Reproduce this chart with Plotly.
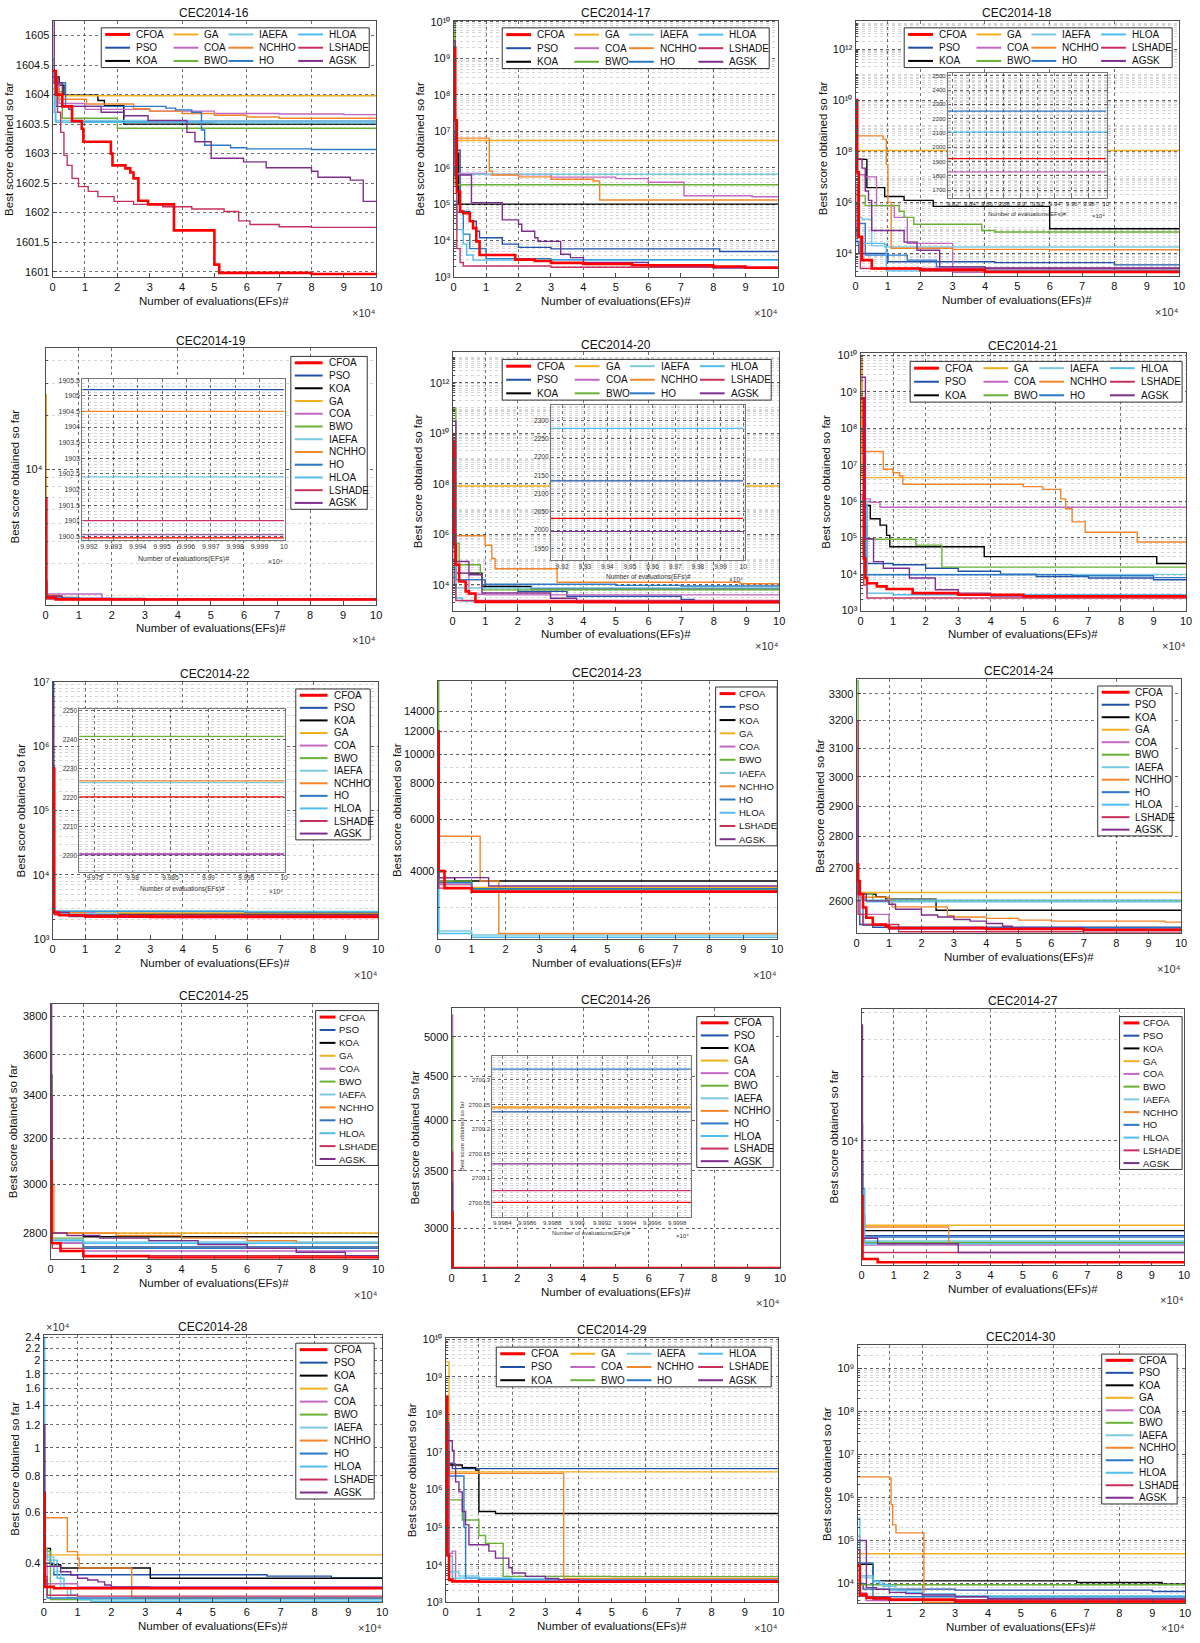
import math
import plotly.graph_objects as go

W, H = 1200, 1643
FONT = "Liberation Sans, Arial, sans-serif"
MAX_FES = 10  # x axis unit: 1e4 function evaluations

ALGOS = ["CFOA", "PSO", "KOA", "GA", "COA", "BWO",
         "IAEFA", "NCHHO", "HO", "HLOA", "LSHADE", "AGSK"]
COLORS = {
    "CFOA": "#ff0000", "PSO": "#2150a8", "KOA": "#000000", "GA": "#f2b01e",
    "COA": "#c267c2", "BWO": "#68b135", "IAEFA": "#7ccae2", "NCHHO": "#f3852a",
    "HO": "#2a78c6", "HLOA": "#4fbdee", "LSHADE": "#c8305c", "AGSK": "#7e2f8e",
}

# convergence curves: [x where the step starts (x1e4 FEs), best score]
f16 = {
    "CFOA": [[0, 1604.4], [0.1, 1604.0], [0.3, 1603.8], [0.6, 1603.55], [0.9, 1603.42], [0.95, 1603.2],
             [1.8, 1603.0], [1.85, 1602.8], [2.25, 1602.75], [2.4, 1602.68], [2.5, 1602.58], [2.65, 1602.2],
             [2.95, 1602.14], [3.75, 1601.7], [5.0, 1601.12], [5.15, 1600.98], [8.0, 1600.96], [10, 1600.95]],
    "PSO": [[0, 1604.3], [0.1, 1603.8], [0.5, 1603.75], [0.6, 1603.55]],
    "KOA": [[0, 1604.3], [0.2, 1604.16], [0.35, 1603.99], [1.4, 1603.9], [1.6, 1603.81], [2.2, 1603.5]],
    "GA": [[0, 1604.1], [0.1, 1603.98]],
    "COA": [[0, 1604.2], [0.2, 1603.85], [1.0, 1603.75], [3.0, 1603.72], [5.0, 1603.68], [7.0, 1603.67], [9.0, 1603.66]],
    "BWO": [[0, 1604.1], [0.2, 1604.05], [0.3, 1603.6], [2.0, 1603.43]],
    "IAEFA": [[0, 1604.0], [0.08, 1603.56], [3.0, 1603.55]],
    "NCHHO": [[0, 1604.1], [0.2, 1603.92], [1.05, 1603.84], [2.5, 1603.76], [3.0, 1603.72], [4.0, 1603.68],
              [5.0, 1603.65], [6.0, 1603.62], [7.0, 1603.6]],
    "HO": [[0, 1604.2], [0.4, 1603.8], [3.5, 1603.77], [3.8, 1603.74], [4.3, 1603.7], [4.6, 1603.4],
           [4.7, 1603.14], [5.5, 1603.1], [6.0, 1603.08], [8.0, 1603.07]],
    "HLOA": [[0, 1604.6], [0.05, 1603.7], [0.1, 1603.53], [5.0, 1603.52]],
    "LSHADE": [[0, 1604.3], [0.15, 1603.7], [0.25, 1603.36], [0.35, 1602.97], [0.45, 1602.8], [0.6, 1602.58],
               [0.8, 1602.44], [1.1, 1602.36], [1.4, 1602.27], [1.9, 1602.19], [2.5, 1602.14], [3.4, 1602.1],
               [4.3, 1602.06], [5.3, 1602.02], [5.75, 1601.86], [6.1, 1601.8], [7.0, 1601.76], [8.0, 1601.75]],
    "AGSK": [[0, 1605.3], [0.05, 1604.2], [0.3, 1603.8], [1.5, 1603.7], [2.2, 1603.64], [2.95, 1603.56],
             [4.15, 1603.36], [4.4, 1603.2], [4.9, 1602.92], [5.9, 1602.86], [6.6, 1602.76], [8.0, 1602.7],
             [8.2, 1602.6], [9.2, 1602.55], [9.6, 1602.19]],
}
f17 = {
    "CFOA": [[0, 2e9], [0.05, 2e7], [0.1, 2.2e5], [0.2, 6.3e4], [0.3, 5.6e4], [0.5, 3.4e4], [0.6, 2.2e4],
             [0.7, 9.5e3], [0.8, 4.0e3], [1.9, 3.0e3], [2.5, 2.75e3], [3.0, 2.45e3], [4.0, 2.3e3],
             [5.5, 2.1e3], [8.0, 1.95e3], [9.0, 1.8e3]],
    "PSO": [[0, 3e6], [0.2, 6.3e4], [0.5, 3.4e4], [0.7, 1.8e4], [0.8, 1.2e4], [1.5, 8e3], [2.0, 6.5e3],
            [3.0, 5.9e3], [8.2, 5.0e3]],
    "KOA": [[0, 2.5e6], [0.15, 1.0e5]],
    "GA": [[0, 5e9], [0.05, 5.6e6]],
    "COA": [[0, 7e5], [1.0, 6.5e5], [3.0, 5.5e5], [5.0, 5.0e5], [6.0, 4.0e5], [7.1, 1.7e5], [9.2, 1.6e5]],
    "BWO": [[0, 1e10], [0.05, 3.4e5]],
    "IAEFA": [[0, 1e6], [0.1, 6.6e5]],
    "NCHHO": [[0, 6.5e6], [1.1, 8e5], [1.2, 6.3e5], [2.0, 5.6e5], [3.0, 4.8e5], [4.3, 4.3e5], [4.5, 1.3e5]],
    "HO": [[0, 1.2e5], [0.1, 6e4], [0.3, 1.5e4], [0.5, 6e3], [1.0, 3.2e3], [3.0, 3.0e3]],
    "HLOA": [[0, 1e5], [0.1, 2e4], [0.3, 8e3], [0.4, 4e3], [0.6, 2.9e3]],
    "LSHADE": [[0, 7e6], [0.05, 5e5], [0.1, 6e3], [0.2, 2.5e3], [0.3, 2.0e3], [3.0, 1.85e3]],
    "AGSK": [[0, 3e9], [0.05, 6.3e5], [0.55, 1.1e5], [1.5, 3.7e4], [2.0, 2.8e4], [2.1, 1.8e4], [2.5, 1.2e4],
             [2.6, 9.5e3], [3.3, 4.2e3], [3.6, 3.4e3], [4.0, 2.5e3], [6.0, 2.0e3], [8.0, 1.75e3]],
}
f18 = {
    "CFOA": [[0, 1e10], [0.05, 1.5e7], [0.1, 4.5e4], [0.2, 5.5e3], [0.5, 2.6e3], [2.0, 2.25e3], [4.0, 1920]],
    "PSO": [[0, 3e4], [0.1, 1e4], [1.0, 4.8e3], [4.3, 4.4e3], [8.0, 3.6e3]],
    "KOA": [[0, 8e7], [0.05, 4.8e7], [0.35, 3.8e6], [0.9, 1.7e6], [1.5, 1.2e6], [2.4, 7e5], [6.0, 9.3e4]],
    "GA": [[0, 5e9], [0.05, 1.07e8]],
    "COA": [[0, 1.2e7], [0.3, 1e7], [0.65, 7.5e5], [1.2, 2.6e5], [1.6, 2.5e4], [3.0, 1827]],
    "BWO": [[0, 2e6], [0.1, 1.8e6], [0.3, 7.5e5], [1.35, 4.5e5], [1.5, 2.6e5], [1.8, 1.4e5], [3.9, 8e4], [4.3, 7e4]],
    "IAEFA": [[0, 5e5], [0.1, 2.6e5], [0.2, 2.2e5], [0.5, 2.0e4], [0.9, 1.8e4]],
    "NCHHO": [[0, 1e9], [0.05, 4e8], [0.85, 3e8], [0.95, 3e7], [1.0, 1e6], [1.1, 1.6e4], [3.0, 1.45e4], [6.0, 1.4e4]],
    "HO": [[0, 1.5e5], [0.3, 8.7e3], [1.6, 5.5e3], [2.5, 3e3], [4.0, 2252]],
    "HLOA": [[0, 3e5], [0.05, 2.5e4], [0.9, 2.3e4], [0.95, 2106]],
    "LSHADE": [[0, 5e6], [0.05, 4.5e4], [0.15, 2.6e3]],
    "AGSK": [[0, 5e7], [0.2, 2.2e7], [0.3, 2.8e6], [0.4, 1.2e6], [0.5, 8e4], [1.5, 2.8e4], [1.9, 1.35e4],
             [2.6, 3e3], [4.0, 2.7e3]],
}
f19 = {
    "CFOA": [[0, 6900], [0.02, 1950], [0.3, 1905], [2.0, 1900.45]],
    "PSO": [[0, 2200], [0.02, 1960], [0.5, 1930], [3.0, 1905.2]],
    "KOA": [[0, 2100], [0.02, 1940], [1.0, 1906.5]],
    "GA": [[0, 26000], [0.02, 1940], [1.0, 1907]],
    "COA": [[0, 2400], [0.05, 2040], [1.7, 1915], [4.0, 1908]],
    "BWO": [[0, 2100], [0.02, 1950], [1.0, 1910]],
    "IAEFA": [[0, 2000], [0.02, 1930], [1.0, 1912]],
    "NCHHO": [[0, 2300], [0.02, 2010], [0.45, 1950], [0.75, 1915], [3.0, 1904.5]],
    "HO": [[0, 2050], [0.02, 1940], [1.0, 1906.8]],
    "HLOA": [[0, 2000], [0.02, 1925], [1.0, 1902.4]],
    "LSHADE": [[0, 2200], [0.02, 1915], [0.5, 1901.0]],
    "AGSK": [[0, 2600], [0.02, 1990], [0.5, 1930], [2.0, 1900.55]],
}
f20 = {
    "CFOA": [[0, 5e9], [0.05, 3.7e5], [0.1, 6.2e4], [0.2, 1.35e4], [0.4, 5.5e3], [0.5, 4.5e3], [0.7, 2.1e3], [5.0, 2032]],
    "PSO": [[0, 5e5], [0.1, 1.6e4], [1.0, 8.5e3], [2.0, 5.5e3], [3.5, 3.5e3], [7.0, 2.6e3], [7.4, 2135]],
    "KOA": [[0, 1e6], [0.1, 2.9e4], [0.9, 8.5e3], [2.4, 7.0e3]],
    "GA": [[0, 1e10], [0.02, 8.1e7]],
    "COA": [[0, 4e5], [0.1, 3e4], [0.5, 4.2e3], [1.0, 4.0e3]],
    "BWO": [[0, 1e11], [0.1, 4.4e5], [0.2, 6.2e4], [0.85, 2.5e4], [0.9, 6.3e3]],
    "IAEFA": [[0, 2e5], [0.1, 7.5e3]],
    "NCHHO": [[0, 1e7], [0.05, 8.7e5], [1.0, 3.7e5], [1.2, 1.1e5], [1.3, 4.3e4], [3.2, 1.26e4], [8.8, 1.1e4]],
    "HO": [[0, 3e5], [0.1, 1.6e4], [1.0, 1.05e4], [5.0, 9.5e3], [7.0, 9.0e3]],
    "HLOA": [[0, 5e6], [0.1, 3e3], [0.3, 2279]],
    "LSHADE": [[0, 3e5], [0.05, 1e4], [0.1, 2.4e3], [0.5, 2380]],
    "AGSK": [[0, 3e10], [0.1, 8.3e4], [0.5, 2.5e4], [0.9, 4.7e3], [3.0, 2.95e3], [3.8, 1996]],
}
f21 = {
    "CFOA": [[0, 6.6e8], [0.1, 2.7e4], [0.15, 7.8e3], [0.2, 5.6e3], [0.5, 4.6e3], [0.8, 3.9e3], [1.6, 3.0e3],
             [3.0, 2.7e3], [5.0, 2.45e3]],
    "PSO": [[0, 2e5], [0.2, 1.95e4], [1.0, 1.8e4], [2.0, 1.45e4], [3.0, 1.2e4], [4.3, 1.0e4], [5.4, 8.5e3],
            [7.0, 7.8e3], [9.0, 7.0e3]],
    "KOA": [[0, 1e6], [0.1, 7.6e5], [0.3, 3.3e5], [0.6, 2.2e5], [0.8, 1.15e5], [0.9, 5.6e4], [3.8, 3e4], [9.1, 1.95e4]],
    "GA": [[0, 1e10], [0.02, 4.4e6]],
    "COA": [[0, 1.5e6], [0.05, 1.15e6], [0.3, 9.3e5], [0.6, 6.8e5]],
    "BWO": [[0, 1e6], [0.1, 9e4], [1.7, 6.2e4], [2.5, 1.55e4]],
    "IAEFA": [[0, 1e6], [0.2, 9.8e3]],
    "NCHHO": [[0, 8e9], [0.05, 2.3e7], [0.7, 7.5e6], [1.0, 6e6], [1.2, 4.9e6], [1.3, 2.9e6], [5.0, 2.5e6],
              [5.6, 2.1e6], [6.15, 1.15e6], [6.3, 6.2e5], [6.5, 2.7e5], [6.9, 1.4e5], [8.5, 7.6e4]],
    "HO": [[0, 5e5], [0.15, 9.6e3], [6.5, 9.0e3], [9.0, 8.0e3]],
    "HLOA": [[0, 8e5], [0.2, 3e3], [1.0, 2.7e3]],
    "LSHADE": [[0, 3e5], [0.1, 5e3], [0.2, 2.2e3]],
    "AGSK": [[0, 2.5e9], [0.15, 9.3e4], [0.4, 2.2e4], [0.7, 1.45e4], [1.5, 7.8e3], [2.3, 3.7e3], [3.0, 3e3], [4.0, 2.5e3]],
}
f22 = {
    "CFOA": [[0, 4.5e5], [0.05, 2600], [0.2, 2350], [1.0, 2250], [3.0, 2220.2]],
    "PSO": [[0, 1e7], [0.03, 2600], [1.0, 2500]],
    "KOA": [[0, 3e4], [0.05, 2600], [1.0, 2450]],
    "GA": [[0, 8e3], [0.05, 2700], [1.0, 2550]],
    "COA": [[0, 1e4], [0.05, 2600], [1.3, 2200.7]],
    "BWO": [[0, 2e4], [0.05, 2500], [1.0, 2241]],
    "IAEFA": [[0, 5e3], [0.05, 2500], [2.0, 2225.1]],
    "NCHHO": [[0, 6e3], [0.05, 2600], [1.0, 2225.7]],
    "HO": [[0, 2e4], [0.05, 2700], [5.9, 2650]],
    "HLOA": [[0, 5e3], [0.05, 2750], [5.9, 2700]],
    "LSHADE": [[0, 1e4], [0.05, 2400], [0.5, 2350]],
    "AGSK": [[0, 6e6], [0.03, 5e5], [0.05, 2600], [0.5, 2250], [2.0, 2200.3]],
}
f23 = {
    "CFOA": [[0, 12000], [0.03, 4000], [0.2, 3500], [1.0, 3400]],
    "PSO": [[0, 6000], [0.03, 3700], [1.0, 3500]],
    "KOA": [[0, 5000], [0.03, 3800], [0.5, 3700]],
    "GA": [[0, 4500], [0.03, 3600], [1.0, 3520]],
    "COA": [[0, 8000], [0.03, 3600], [1.0, 3450]],
    "BWO": [[0, 18000], [0.03, 3700], [1.0, 3460]],
    "IAEFA": [[0, 4000], [0.03, 2500], [1.0, 2420]],
    "NCHHO": [[0, 5260], [1.25, 3700], [1.8, 2450]],
    "HO": [[0, 5000], [0.03, 3650], [1.0, 3480]],
    "HLOA": [[0, 4000], [0.03, 2450], [1.0, 2380]],
    "LSHADE": [[0, 6000], [0.03, 3500], [1.0, 3420]],
    "AGSK": [[0, 7000], [0.03, 3800], [1.5, 3560]],
}
f24 = {
    "CFOA": [[0, 2712], [0.05, 2660], [0.1, 2620], [0.2, 2580], [0.3, 2550], [0.5, 2530], [0.9, 2525],
             [1.0, 2520], [4.0, 2517], [7.0, 2515]],
    "PSO": [[0, 2600], [0.1, 2530], [0.5, 2522]],
    "KOA": [[0, 2640], [0.05, 2620], [0.6, 2612], [0.9, 2605], [2.45, 2572]],
    "GA": [[0, 2700], [0.05, 2625]],
    "COA": [[0, 2650], [0.1, 2560], [1.0, 2516]],
    "BWO": [[0, 3350], [0.05, 2620], [0.5, 2600]],
    "IAEFA": [[0, 2640], [0.05, 2612], [0.3, 2603]],
    "NCHHO": [[0, 2650], [0.1, 2611], [1.0, 2600], [1.1, 2582], [2.8, 2556], [3.0, 2552], [4.0, 2548],
              [5.0, 2543], [6.0, 2540], [9.5, 2537]],
    "HO": [[0, 2620], [0.2, 2528], [1.0, 2520]],
    "HLOA": [[0, 2630], [0.1, 2605], [0.3, 2597]],
    "LSHADE": [[0, 3200], [0.05, 2560], [0.2, 2530], [1.3, 2509], [7.0, 2508]],
    "AGSK": [[0, 2900], [0.05, 2620], [0.3, 2600], [1.0, 2590], [1.2, 2575], [2.0, 2558], [2.5, 2552],
             [3.0, 2545], [3.5, 2540], [4.0, 2533], [4.5, 2525], [4.8, 2520], [7.0, 2513]],
}
f25 = {
    "CFOA": [[0, 3100], [0.03, 2760], [0.3, 2730], [1.0, 2710], [3.0, 2705]],
    "PSO": [[0, 2900], [0.05, 2760], [1.0, 2745]],
    "KOA": [[0, 3000], [0.05, 2800], [1.0, 2785]],
    "GA": [[0, 2950], [0.05, 2800]],
    "COA": [[0, 3300], [0.05, 2760], [1.0, 2730]],
    "BWO": [[0, 3500], [0.05, 2780], [1.0, 2740]],
    "IAEFA": [[0, 3200], [0.05, 2775], [1.0, 2765]],
    "NCHHO": [[0, 3000], [0.1, 2800], [2.0, 2790], [4.0, 2780], [6.0, 2770], [7.5, 2760]],
    "HO": [[0, 3100], [0.05, 2770], [1.0, 2740]],
    "HLOA": [[0, 3300], [0.05, 2770], [1.0, 2760]],
    "LSHADE": [[0, 3400], [0.05, 2740], [1.0, 2712]],
    "AGSK": [[0, 3870], [0.03, 2800], [0.5, 2790], [1.5, 2780], [3.0, 2770], [4.5, 2755], [6.0, 2740],
             [7.5, 2725], [9.0, 2712]],
}
f26 = {
    "CFOA": [[0, 3130], [0.03, 2701], [1.0, 2700.051]],
    "PSO": [[0, 2900], [0.03, 2701], [1.0, 2700.235]],
    "KOA": [[0, 2850], [0.03, 2701], [1.0, 2700.45]],
    "GA": [[0, 2800], [0.03, 2701], [1.0, 2700.245]],
    "COA": [[0, 5300], [0.03, 2700.4]],
    "BWO": [[0, 5000], [0.03, 2700.5]],
    "IAEFA": [[0, 2800], [0.03, 2701], [1.0, 2700.6]],
    "NCHHO": [[0, 2800], [0.03, 2701], [1.0, 2700.243]],
    "HO": [[0, 2900], [0.03, 2701], [1.0, 2700.322]],
    "HLOA": [[0, 2800], [0.03, 2701], [1.0, 2700.01]],
    "LSHADE": [[0, 3680], [0.03, 2701], [1.0, 2700.075]],
    "AGSK": [[0, 3400], [0.03, 2701], [1.0, 2700.129]],
}
f27 = {
    "CFOA": [[0, 5500], [0.03, 2800], [0.5, 2700]],
    "PSO": [[0, 5000], [0.05, 3600]],
    "KOA": [[0, 6000], [0.05, 3800]],
    "GA": [[0, 5000], [0.03, 4030]],
    "COA": [[0, 9000], [0.03, 3250]],
    "BWO": [[0, 7000], [0.05, 3350]],
    "IAEFA": [[0, 8000], [0.05, 3400]],
    "NCHHO": [[0, 4500], [0.1, 3950], [2.7, 3300]],
    "HO": [[0, 4500], [0.05, 3550]],
    "HLOA": [[0, 6000], [0.1, 3300]],
    "LSHADE": [[0, 12000], [0.03, 3000]],
    "AGSK": [[0, 35000], [0.03, 3500], [0.5, 3300], [3.0, 3000]],
}
f28 = {
    "CFOA": [[0, 7000], [0.03, 3314], [0.3, 3280]],
    "PSO": [[0, 4000], [0.3, 3650], [6.6, 3610], [8.5, 3560]],
    "KOA": [[0, 4500], [0.2, 3950], [0.5, 3850], [3.15, 3550]],
    "GA": [[0, 5000], [0.03, 4275]],
    "COA": [[0, 4000], [0.1, 3400], [1.0, 3310]],
    "BWO": [[0, 4500], [0.1, 4400], [0.2, 3000]],
    "IAEFA": [[0, 12000], [0.03, 4200], [0.3, 3750], [0.5, 3300], [0.7, 3050], [1.0, 3000]],
    "NCHHO": [[0, 5740], [0.7, 4385], [1.0, 4160], [1.05, 3850], [2.6, 3035]],
    "HO": [[0, 3500], [0.1, 3035]],
    "HLOA": [[0, 24000], [0.03, 4400], [0.1, 4100], [0.4, 3550], [0.6, 3300], [0.8, 3100], [1.0, 3000], [1.4, 2955]],
    "LSHADE": [[0, 3600], [0.1, 3100], [1.0, 3080]],
    "AGSK": [[0, 12000], [0.03, 3900], [0.5, 3740], [0.8, 3643], [1.0, 3548], [1.3, 3500], [1.6, 3450],
             [1.8, 3363], [2.0, 3314], [3.1, 3300]],
}
f29 = {
    "CFOA": [[0, 3e8], [0.05, 1.8e4], [0.1, 4e3], [0.2, 3.6e3], [1.0, 3.5e3]],
    "PSO": [[0, 5e6], [0.2, 3.6e6]],
    "KOA": [[0, 1e7], [0.1, 4.5e6], [0.5, 3.8e6], [0.9, 3.3e6], [1.0, 2.6e5], [1.5, 2.3e5]],
    "GA": [[0, 2.5e9], [0.1, 2.95e6]],
    "COA": [[0, 2e4], [0.2, 2.3e4], [0.3, 3.6e3], [1.0, 3.5e3]],
    "BWO": [[0, 1e7], [0.1, 5.3e5], [0.5, 1.55e5], [1.0, 6e4], [1.2, 3.7e4], [1.73, 4.9e3], [5.0, 4.8e3]],
    "IAEFA": [[0, 2e6], [0.1, 6.5e3], [0.4, 5e3], [1.0, 4.3e3], [3.0, 4.0e3]],
    "NCHHO": [[0, 5e6], [0.1, 2.7e6], [3.55, 4.3e3]],
    "HO": [[0, 6e7], [0.1, 2.3e6], [0.55, 1e5], [0.6, 4.4e3], [1.0, 4.0e3]],
    "HLOA": [[0, 1e7], [0.05, 1.7e4], [0.2, 4.4e3], [2.0, 3.9e3]],
    "LSHADE": [[0, 1e7], [0.1, 3.7e3], [1.0, 3.45e3]],
    "AGSK": [[0, 2e7], [0.2, 1.1e7], [0.25, 4.8e6], [0.3, 1.6e6], [0.4, 8.7e5], [0.5, 2.6e5], [0.6, 1.15e5],
             [0.7, 3.4e4], [1.3, 2.3e4], [1.5, 1.5e4], [1.9, 8.3e3], [2.0, 6e3], [2.4, 4.9e3], [3.0, 4.3e3],
             [3.4, 4e3], [4.0, 3.8e3]],
}
f30 = {
    "CFOA": [[0, 2.6e4], [0.1, 5.5e3], [0.3, 4.6e3], [1.0, 4.2e3], [3.0, 3.8e3]],
    "PSO": [[0, 1e4], [0.2, 7.4e3], [3.0, 7e3], [9.0, 6.5e3]],
    "KOA": [[0, 2.8e4], [0.5, 1.15e4], [6.7, 1.05e4], [9.3, 9.6e3]],
    "GA": [[0, 5e4], [0.02, 4.9e4]],
    "COA": [[0, 1.26e5], [0.1, 6e3], [0.3, 4.0e3]],
    "BWO": [[0, 1.2e4], [0.1, 9.3e3]],
    "IAEFA": [[0, 1.5e4], [0.1, 1.35e4], [0.5, 1.1e4], [0.8, 8.6e3], [1.2, 6.8e3], [2.0, 5.8e3], [3.0, 5.1e3], [4.0, 4.9e3]],
    "NCHHO": [[0, 3e6], [1.0, 2.8e6], [1.05, 6.8e5], [1.1, 2.3e5], [1.2, 1.5e5], [2.05, 3650]],
    "HO": [[0, 3e4], [0.5, 4.9e3]],
    "HLOA": [[0, 3.3e5], [0.1, 1.5e4], [0.5, 1.15e4], [0.7, 9.5e3], [1.0, 7e3], [1.5, 6.2e3], [2.0, 5.6e3], [3.0, 5.1e3]],
    "LSHADE": [[0, 6e4], [0.1, 5e3], [0.5, 4.2e3]],
    "AGSK": [[0, 1e5], [0.3, 8e3], [0.6, 7.3e3], [1.0, 6.2e3], [1.5, 5.8e3], [2.0, 5.4e3], [3.0, 4.9e3], [4.0, 4.4e3]],
}

# tick values
X_TICKS = [0, 1, 2, 3, 4, 5, 6, 7, 8, 9, 10]
X_GRID = [1, 2, 4, 6, 8]
YT16 = [1601, 1601.5, 1602, 1602.5, 1603, 1603.5, 1604, 1604.5, 1605]
YT17 = [1e3, 1e4, 1e5, 1e6, 1e7, 1e8, 1e9, 1e10]
YT18 = [1e4, 1e6, 1e8, 1e10, 1e12]
YT19 = [1e4]
YT20 = [1e4, 1e6, 1e8, 1e10, 1e12]
YT21 = [1e3, 1e4, 1e5, 1e6, 1e7, 1e8, 1e9, 1e10]
YT22 = [1e3, 1e4, 1e5, 1e6, 1e7]
YT23 = [4000, 6000, 8000, 10000, 12000, 14000]
YT24 = [2600, 2700, 2800, 2900, 3000, 3100, 3200, 3300]
YT25 = [2800, 3000, 3200, 3400, 3600, 3800]
YT26 = [3000, 3500, 4000, 4500, 5000]
YT27 = [1e4]
YT28 = [4000, 6000, 8000, 10000, 12000, 14000, 16000, 18000, 20000, 22000, 24000]
YT29 = [1e3, 1e4, 1e5, 1e6, 1e7, 1e8, 1e9, 1e10]
YT30 = [1e4, 1e5, 1e6, 1e7, 1e8, 1e9]

IX18 = [9.82, 9.84, 9.86, 9.88, 9.9, 9.92, 9.94, 9.96, 9.98, 10]
IY18 = [1700, 1800, 1900, 2000, 2100, 2200, 2300, 2400, 2500]
IX19 = [9.992, 9.993, 9.994, 9.995, 9.996, 9.997, 9.998, 9.999, 10]
IY19 = [1900.5, 1901, 1901.5, 1902, 1902.5, 1903, 1903.5, 1904, 1904.5, 1905, 1905.5]
IX20 = [9.92, 9.93, 9.94, 9.95, 9.96, 9.97, 9.98, 9.99, 10]
IY20 = [1950, 2000, 2050, 2100, 2150, 2200, 2250, 2300]
IX22 = [9.975, 9.98, 9.985, 9.99, 9.995, 10]
IY22 = [2200, 2210, 2220, 2230, 2240, 2250]
IX26 = [9.9984, 9.9986, 9.9988, 9.999, 9.9992, 9.9994, 9.9996, 9.9998]
IY26 = [2700.05, 2700.1, 2700.15, 2700.2, 2700.25, 2700.3]

# title, curves, y ticks, tick label style, y range
PANELS = [
    ("CEC2014-16", f16, YT16, "num", (1600.91, 1605.25)),
    ("CEC2014-17", f17, YT17, "pow", (1000, 1.07e10)),
    ("CEC2014-18", f18, YT18, "pow", (1320, 1.26e13)),
    ("CEC2014-19", f19, YT19, "pow", (1782, 46800)),
    ("CEC2014-20", f20, YT20, "pow", (955, 1.58e13)),
    ("CEC2014-21", f21, YT21, "pow", (1000, 1.12e10)),
    ("CEC2014-22", f22, YT22, "pow", (1000, 1e7)),
    ("CEC2014-23", f23, YT23, "num", (2344, 17800)),
    ("CEC2014-24", f24, YT24, "num", (2505, 3357)),
    ("CEC2014-25", f25, YT25, "num", (2700, 3870)),
    ("CEC2014-26", f26, YT26, "num", (2703, 5404)),
    ("CEC2014-27", f27, YT27, "pow", (2630, 41700)),
    ("CEC2014-28", f28, YT28, "e4", (2934, 24440)),
    ("CEC2014-29", f29, YT29, "pow", (1000, 1.07e10)),
    ("CEC2014-30", f30, YT30, "pow", (3467, 3.47e9)),
]

# pixel geometry: left, top, right, bottom, y-title offset, x start, legend box, legend columns
GEOM = [
    (50, 15, 376, 273, 44, 0, (99, 22, 369, 62), 4),
    (454, 15, 781, 273, 34, 0, (503, 22, 772, 63), 4),
    (859, 15, 1185, 272, 32, 0, (908, 22, 1178, 62), 4),
    (43, 345, 376, 603, 31, 0, (290, 353, 367, 507), 1),
    (453, 349, 782, 609, 35, 0, (503, 356, 774, 397), 4),
    (864, 350, 1192, 609, 35, 0, (914, 358, 1188, 399), 4),
    (50, 681, 378, 940, 32, 0, (295, 688, 370, 840), 1),
    (438, 680, 780, 940, 41, 0, (718, 686, 780, 846), 1),
    (860, 678, 1187, 934, 37, 0, (1103, 685, 1178, 836), 1),
    (48, 1005, 378, 1262, 38, 0, (315, 1012, 378, 1168), 1),
    (452, 1009, 783, 1271, 37, 0, (699, 1018, 776, 1170), 1),
    (865, 1010, 1190, 1268, 28, 0, (1125, 1018, 1188, 1172), 1),
    (41, 1339, 382, 1608, 29, 0, (295, 1347, 374, 1504), 1),
    (446, 1342, 781, 1608, 34, 0, (497, 1351, 774, 1391), 4),
    (861, 1349, 1191, 1609, 31, 0.03, (1107, 1358, 1183, 1509), 1),
]

# zoomed insets: parent panel index, box px, x range, x ticks, y range, y ticks, font size, y title
INSETS = [
    (2, (952, 67, 1112, 193), (9.814, 10.001), IX18, (1647, 2523), IY18, 6, False),
    (3, (80, 376, 284, 538), (9.99173, 10.00004), IX19, (1900.38, 1905.53), IY19, 7, False),
    (4, (552, 402, 748, 558), (9.915, 10.001), IX20, (1918, 2343), IY20, 6.5, False),
    (6, (77, 708, 284, 872), (9.973, 10.0001), IX22, (2194.5, 2250.5), IY22, 6.5, False),
    (10, (493, 1058, 693, 1220), (9.99832, 9.99991), IX26, (2700.021, 2700.348), IY26, 6, True),
]

DRAW_ORDER = ALGOS[1:] + ["CFOA"]
GRID = "rgba(0,0,0,0.55)"
MINOR = "rgba(0,0,0,0.16)"
AXC = "#4d4d4d"
SUP = str.maketrans("0123456789-", "\u2070\u00b9\u00b2\u00b3\u2074\u2075\u2076\u2077\u2078\u2079\u207b")
E4 = "\u00d710" + "4".translate(SUP)


def px(x):
    return x / W


def py(y):
    return 1 - y / H


def names(k):
    s = "" if k == 1 else str(k)
    return "xaxis" + s, "yaxis" + s, "x" + s, "y" + s


def tick_label(v, mode):
    if mode == "pow":
        return "10" + str(round(math.log10(v))).translate(SUP)
    if mode == "e4":
        return "%g" % (v / 1e4)
    return "%g" % v


def text(s, x, y, size, xanchor="center", angle=0, color="#111"):
    return dict(text=s, x=px(x), y=py(y), xref="paper", yref="paper", xanchor=xanchor,
                yanchor="middle", textangle=angle, showarrow=False,
                font=dict(size=size, color=color))


fig = go.Figure()
layout = dict(width=W, height=H, margin=dict(l=0, r=0, t=0, b=0), paper_bgcolor="white",
              plot_bgcolor="white", showlegend=False, hovermode=False,
              font=dict(family=FONT, color="#111", size=11))
shapes, annos = [], []


def add_curves(data, xr, yr, inset):
    for name in DRAW_ORDER:
        pts = data[name]
        xs = [p[0] for p in pts] + [MAX_FES]
        ys = [p[1] for p in pts] + [pts[-1][1]]
        w = 1.2 if inset else (2.6 if name == "CFOA" else 1.4)
        fig.add_trace(go.Scatter(x=xs, y=ys, mode="lines", name=name, xaxis=xr, yaxis=yr,
                                 line=dict(color=COLORS[name], width=w, shape="hv")))


def add_legend(box, ncols):
    x0, y0, x1, y1 = box
    shapes.append(dict(type="rect", xref="paper", yref="paper", x0=px(x0), x1=px(x1), y0=py(y1), y1=py(y0),
                       line=dict(color="#333", width=1), fillcolor="white", layer="above"))
    nrows = len(ALGOS) // ncols
    rh = (y1 - y0) / nrows
    offs = [0, 0.255, 0.46, 0.72] if ncols == 4 else [0]
    narrow = x1 - x0 < 70
    slen = 25 if ncols == 4 else (16 if narrow else 28)
    for i, name in enumerate(ALGOS):
        c, r = divmod(i, nrows)
        cx = x0 + offs[c] * (x1 - x0)
        cy = y0 + rh * (r + 0.5)
        shapes.append(dict(type="line", xref="paper", yref="paper", x0=px(cx + 4), x1=px(cx + 4 + slen),
                           y0=py(cy), y1=py(cy), layer="above",
                           line=dict(color=COLORS[name], width=3 if name == "CFOA" else 2)))
        annos.append(text(name, cx + slen + (6 if narrow else 8), cy, 9.5 if narrow else 10, "left"))


for i, (title, data, yt, mode, (ylo, yhi)) in enumerate(PANELS):
    k = i + 1
    left, top, right, bottom, dx, xlo, lbox, lcols = GEOM[i]
    xa, ya, xr, yr = names(k)
    add_curves(data, xr, yr, False)
    layout[xa] = dict(domain=[px(left), px(right)], range=[xlo, MAX_FES], anchor=yr,
                      tickmode="array", tickvals=X_TICKS, ticktext=["%g" % v for v in X_TICKS],
                      showgrid=False, zeroline=False, showline=True, mirror=True, linecolor=AXC,
                      ticks="inside", ticklen=4, tickcolor=AXC, tickfont=dict(size=11),
                      minor=dict(tickmode="array", tickvals=X_GRID, showgrid=True, gridcolor=GRID,
                                 griddash="dot", gridwidth=1))
    layout[ya] = dict(domain=[py(bottom), py(top)], type="log", anchor=xr,
                      range=[math.log10(ylo), math.log10(yhi)],
                      tickmode="array", tickvals=yt, ticktext=[tick_label(v, mode) for v in yt],
                      showgrid=True, gridcolor=GRID, griddash="dot", gridwidth=1, zeroline=False,
                      showline=True, mirror=True, linecolor=AXC, ticks="inside", ticklen=4,
                      tickcolor=AXC, tickfont=dict(size=11),
                      minor=dict(dtick="D1", showgrid=True, gridcolor=MINOR, griddash="dot",
                                 ticks="inside", ticklen=2, tickcolor=AXC))
    mid = (left + right) / 2
    annos.append(text(title, mid, top - 8, 12))
    annos.append(text("Number of evaluations(EFs)#", mid, bottom + 24, 11.5))
    annos.append(text(E4, right + 2, min(bottom + 36, H - 9), 11, "right", color="#333"))
    annos.append(text("Best score obtained so far", left - dx, (top + bottom) / 2, 11.5, angle=-90))
    if mode == "e4":
        annos.append(text(E4, left, top - 8, 11, "left", color="#333"))
    add_legend(lbox, lcols)

for j, (pi, box, xrng, xt, yrng, yt, fs, ytitle) in enumerate(INSETS):
    k = len(PANELS) + j + 1
    xa, ya, xr, yr = names(k)
    l, t, r, b = box
    add_curves(PANELS[pi][1], xr, yr, True)
    common = dict(showline=True, mirror=True, linecolor="#777", ticks="inside", ticklen=2, tickcolor="#777",
                  showgrid=True, gridcolor=GRID, griddash="dot", gridwidth=1, zeroline=False,
                  tickfont=dict(size=fs, color="#333"), tickmode="array")
    layout[xa] = dict(domain=[px(l), px(r)], range=list(xrng), anchor=yr, tickvals=xt,
                      ticktext=["%g" % v for v in xt], **common)
    layout[ya] = dict(domain=[py(b), py(t)], range=list(yrng), anchor=xr, tickvals=yt,
                      ticktext=["%g" % v for v in yt],
                      minor=dict(showgrid=True, gridcolor=MINOR, griddash="dot", nticks=20), **common)
    annos.append(text("Number of evaluations(EFs)#", (l + r) / 2, b + 2.4 * fs + 2, fs, color="#333"))
    annos.append(text(E4, r, b + 2.6 * fs + 3, fs, "right", color="#333"))
    if ytitle:
        annos.append(text("Best score obtained so far", l - 31, (t + b) / 2, fs, angle=-90, color="#333"))

layout["shapes"] = shapes
layout["annotations"] = annos
fig.update_layout(**layout)
fig.write_html("out.html", config={"displayModeBar": False},
               post_script="document.body.style.margin='0';document.body.style.overflow='hidden';")
